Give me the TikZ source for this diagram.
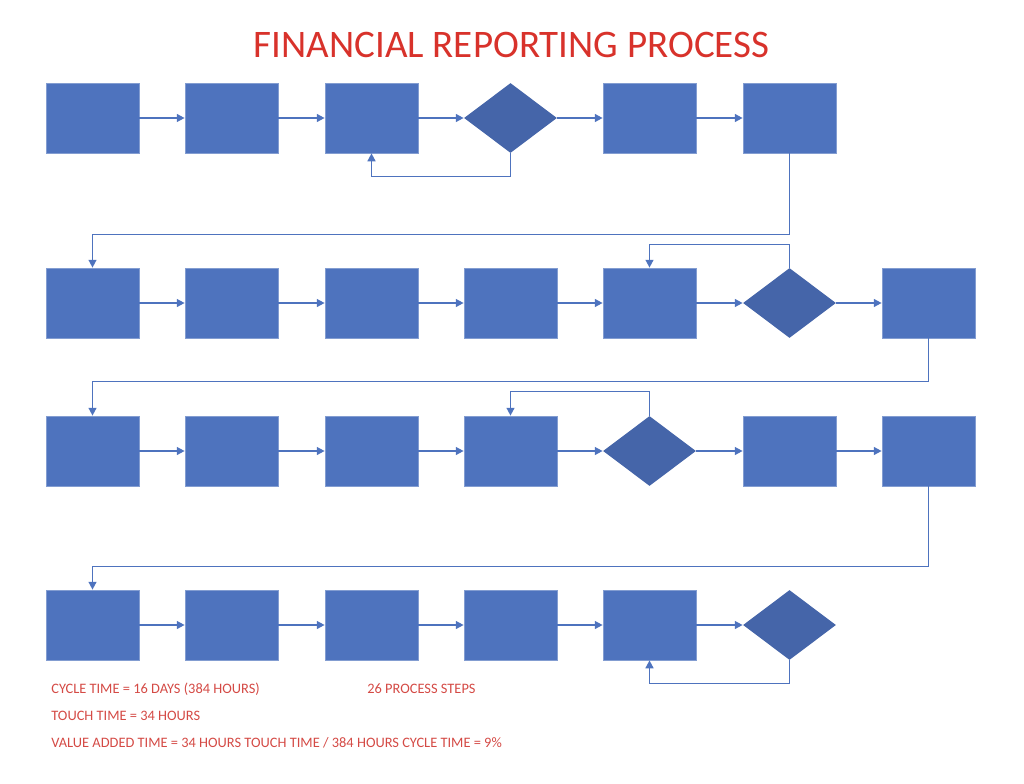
\documentclass[tikz,border=0pt]{standalone}
\usepackage{fontspec}
\setmainfont{Carlito}
\usepackage{xcolor}
\usetikzlibrary{shapes.geometric,arrows.meta}

\definecolor{stepblue}{HTML}{4E73BE}
\definecolor{decblue}{HTML}{4565A9}
\definecolor{titlered}{HTML}{D8322B}
\definecolor{notered}{HTML}{D44A45}

\tikzset{
  stepbox/.style={rectangle, fill=stepblue, draw=stepblue!70!white, line width=0.4pt,
    minimum width=1.86cm, minimum height=1.4cm, inner sep=0pt},
  decbox/.style={diamond, fill=decblue, draw=none, aspect=1.33,
    minimum width=1.86cm, minimum height=1.4cm, inner sep=0pt},
  flow/.style={draw=stepblue, line width=0.9pt, -{Triangle[width=4.5pt,length=4.5pt]}},
  note/.style={anchor=west, text=notered, font=\fontsize{8.2}{10}\selectfont, inner sep=0pt}
}

\begin{document}
\begin{tikzpicture}[x=0.02cm, y=-0.02cm]
        \useasboundingbox (0,0) rectangle (1024,784);

        % Title
        \node[text=titlered, font=\fontsize{22.2}{26}\selectfont] (title) at (511.5,45) {FINANCIAL REPORTING PROCESS};

        % Row 1
        \node[stepbox] (s1) at (92.5,118) {};
        \node[stepbox] (s2) at (231.5,118) {};
        \node[stepbox] (s3) at (371.5,118) {};
        \node[decbox]  (s4) at (510.5,118) {};
        \node[stepbox] (s5) at (649.5,118) {};
        \node[stepbox] (s6) at (789.5,118) {};

        % Row 2
        \node[stepbox] (s7)  at (92.5,303) {};
        \node[stepbox] (s8)  at (231.5,303) {};
        \node[stepbox] (s9)  at (371.5,303) {};
        \node[stepbox] (s10) at (510.5,303) {};
        \node[stepbox] (s11) at (649.5,303) {};
        \node[decbox]  (s12) at (789.5,303) {};
        \node[stepbox] (s13) at (928.5,303) {};

        % Row 3
        \node[stepbox] (s14) at (92.5,451) {};
        \node[stepbox] (s15) at (231.5,451) {};
        \node[stepbox] (s16) at (371.5,451) {};
        \node[stepbox] (s17) at (510.5,451) {};
        \node[decbox]  (s18) at (649.5,451) {};
        \node[stepbox] (s19) at (789.5,451) {};
        \node[stepbox] (s20) at (928.5,451) {};

        % Row 4
        \node[stepbox] (s21) at (92.5,625) {};
        \node[stepbox] (s22) at (231.5,625) {};
        \node[stepbox] (s23) at (371.5,625) {};
        \node[stepbox] (s24) at (510.5,625) {};
        \node[stepbox] (s25) at (649.5,625) {};
        \node[decbox]  (s26) at (789.5,625) {};

        % Arrows row 1
        \draw[flow] (s1.east) -- (s2.west);
        \draw[flow] (s2.east) -- (s3.west);
        \draw[flow] (s3.east) -- (s4.west);
        \draw[flow] (s4.east) -- (s5.west);
        \draw[flow] (s5.east) -- (s6.west);
        \draw[flow] (s4.south) -- ++(0,23) -| (s3.south);

        % Arrows row 2
        \draw[flow] (s6.south) -- ++(0,81) -| (s7.north);
        \draw[flow] (s7.east) -- (s8.west);
        \draw[flow] (s8.east) -- (s9.west);
        \draw[flow] (s9.east) -- (s10.west);
        \draw[flow] (s10.east) -- (s11.west);
        \draw[flow] (s11.east) -- (s12.west);
        \draw[flow] (s12.east) -- (s13.west);
        \draw[flow] (s12.north) -- ++(0,-23) -| (s11.north);

        % Arrows row 3
        \draw[flow] (s13.south) -- ++(0,43) -| (s14.north);
        \draw[flow] (s14.east) -- (s15.west);
        \draw[flow] (s15.east) -- (s16.west);
        \draw[flow] (s16.east) -- (s17.west);
        \draw[flow] (s17.east) -- (s18.west);
        \draw[flow] (s18.east) -- (s19.west);
        \draw[flow] (s19.east) -- (s20.west);
        \draw[flow] (s18.north) -- ++(0,-24) -| (s17.north);

        % Arrows row 4
        \draw[flow] (s20.south) -- ++(0,80) -| (s21.north);
        \draw[flow] (s21.east) -- (s22.west);
        \draw[flow] (s22.east) -- (s23.west);
        \draw[flow] (s23.east) -- (s24.west);
        \draw[flow] (s24.east) -- (s25.west);
        \draw[flow] (s25.east) -- (s26.west);
        \draw[flow] (s26.south) -- ++(0,23) -| (s25.south);

        % Notes
        \node[note] (cycle) at (51,689) {CYCLE TIME = 16 DAYS (384 HOURS)};
        \node[note] (steps) at (367,689) {26 PROCESS STEPS};
        \node[note] (touch) at (51,716) {TOUCH TIME = 34 HOURS};
        \node[note] (value) at (51,743) {VALUE ADDED TIME = 34 HOURS TOUCH TIME / 384 HOURS CYCLE TIME = 9\%};
    \end{tikzpicture}
\end{document}
